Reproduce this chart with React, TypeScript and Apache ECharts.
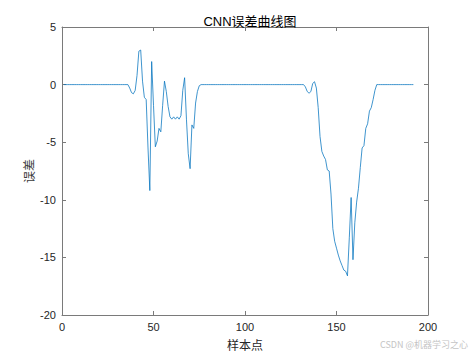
import React, { useEffect, useRef } from "react";
import * as echarts from "echarts";

const titleText = "CNN误差曲线图";
const xName = "样本点";
const yName = "误差";
const watermark = "CSDN @机器学习之心";

const xTicks = { min: 0, max: 200, interval: 50 };
const yTicks = { min: -20, max: 5, interval: 5 };

// CNN prediction error per sample (samples 1..192)
const errors: number[] = [
  0, 0, 0, 0, 0, 0, 0, 0, 0, 0, 0, 0,
  0, 0, 0, 0, 0, 0, 0, 0, 0, 0, 0, 0,
  0, 0, 0, 0, 0, 0, 0, 0, 0, 0, 0, 0,
  -0.3, -0.7, -0.8, -0.5, 0.8, 2.9, 3.0, 0.3, -1.1, -1.3,
  -5.5, -9.2, 2.0, -1.8, -5.4, -4.9, -3.8, -4.1, -1.8, 0.3,
  -0.6, -1.9, -2.8, -3.0, -2.8, -3.0, -2.8, -3.0, -2.7, -0.5,
  0.6, -3.0, -6.0, -7.3, -3.5, -3.8, -1.6, -0.6, -0.1,
  0, 0, 0, 0, 0, 0, 0, 0, 0, 0, 0, 0,
  0, 0, 0, 0, 0, 0, 0, 0, 0, 0, 0, 0,
  0, 0, 0, 0, 0, 0, 0, 0, 0, 0, 0, 0,
  0, 0, 0, 0, 0, 0, 0, 0, 0, 0, 0, 0,
  0, 0, 0, 0, 0, 0, 0, 0, 0,
  -0.2, -0.6, -0.75, -0.6, 0.1, 0.25, -0.3, -2.0, -4.5, -5.8,
  -6.2, -6.5, -7.4, -7.5, -9.5, -12.5, -13.6, -14.2, -14.8, -15.3,
  -15.7, -16.1, -16.2, -16.6, -13.3, -9.8, -15.2, -12.0, -10.2, -9.0,
  -7.2, -5.5, -5.3, -3.8, -3.4, -2.3, -2.0, -1.3, -0.5,
  0, 0, 0, 0, 0, 0, 0, 0, 0, 0, 0,
  0, 0, 0, 0, 0, 0, 0, 0, 0, 0,
];

const sampleNumbers = errors.map((_, i) => i + 1);

const axisColor = "#7a7a7a";
const labelColor = "#262626";
const latinFont = "'Liberation Sans', Arial, 'Noto Sans CJK SC', sans-serif";
const cjkFont = "'Noto Sans CJK SC', sans-serif";

export default function App() {
  const ref = useRef<HTMLDivElement>(null);

  useEffect(() => {
    if (!ref.current) return;
    const chart = echarts.init(ref.current, undefined, { renderer: "svg" });

    const boxAxis = (pos: string) => ({
      position: pos,
      axisLine: { show: true, onZero: false, lineStyle: { color: axisColor, width: 1 } },
      axisTick: { show: true, inside: true, length: 4, lineStyle: { color: axisColor } },
      splitLine: { show: false },
    });

    chart.setOption({
      animation: false,
      backgroundColor: "#ffffff",
      title: {
        text: titleText,
        left: 245,
        top: 10,
        textAlign: "center",
        textStyle: { fontSize: 13, fontWeight: "normal", color: "#000", fontFamily: latinFont },
      },
      grid: { left: 62, right: 46, top: 27, bottom: 40 },
      xAxis: [
        {
          type: "value",
          ...xTicks,
          ...boxAxis("bottom"),
          axisLabel: { fontSize: 11, color: labelColor, margin: 7, fontFamily: latinFont },
          name: xName,
          nameLocation: "middle",
          nameGap: 23,
          nameTextStyle: { fontSize: 12, color: "#262626", fontFamily: cjkFont },
        },
        {
          type: "value",
          ...xTicks,
          ...boxAxis("top"),
          axisLabel: { show: false },
        },
      ],
      yAxis: [
        {
          type: "value",
          ...yTicks,
          ...boxAxis("left"),
          axisLabel: { fontSize: 11, color: labelColor, margin: 6, fontFamily: latinFont },
          name: yName,
          nameLocation: "middle",
          nameGap: 28,
          nameMoveOverlap: false,
          nameRotate: 90,
          nameTextStyle: { fontSize: 12, color: "#3a3a3a", fontFamily: cjkFont },
        },
        {
          type: "value",
          ...yTicks,
          ...boxAxis("right"),
          axisLabel: { show: false },
        },
      ],
      series: [
        {
          type: "line",
          xAxisIndex: 0,
          yAxisIndex: 0,
          data: errors.map((v, i) => [sampleNumbers[i], v]),
          symbol: "none",
          showSymbol: false,
          lineStyle: { color: "#0072BD", width: 0.75 },
        },
      ],
      graphic: [
        {
          type: "text",
          right: 6,
          top: 340,
          style: { text: watermark, fill: "#c4c4c4", fontSize: 9, fontFamily: cjkFont },
        },
      ],
    });

    return () => chart.dispose();
  }, []);

  return (
    <div
      ref={ref}
      style={{ position: "absolute", left: 0, top: 0, width: 474, height: 355, background: "#fff" }}
    />
  );
}
